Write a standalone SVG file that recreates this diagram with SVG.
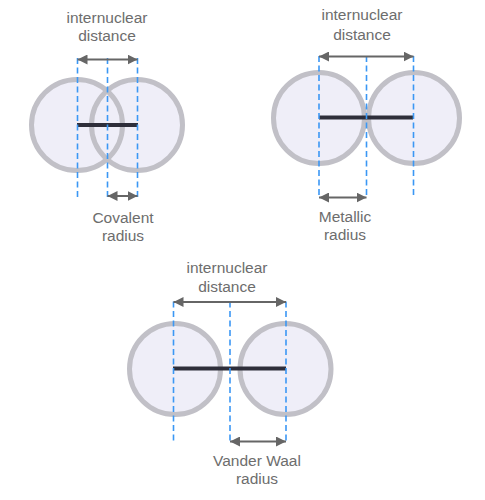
<svg xmlns="http://www.w3.org/2000/svg" width="485" height="500" viewBox="0 0 485 500">
<style>
.fill{fill:#efeef8;stroke:none}
.ring{fill:none;stroke:#c1c0c7;stroke-width:5}
.bond{stroke:#2e2e3a;stroke-width:4;stroke-linecap:butt}
.guide{stroke:#3b97f4;stroke-width:1.6;stroke-dasharray:6 3.5;fill:none}
.dim{stroke:#666666;stroke-width:2;fill:none}
text{font-family:"Liberation Sans",Arial,sans-serif;font-size:15.5px;fill:#6d6d6d;text-anchor:middle}
</style>
<defs>
<marker id="ah" viewBox="0 0 10 10" refX="10" refY="5" markerWidth="10" markerHeight="10" markerUnits="userSpaceOnUse" orient="auto-start-reverse">
<path d="M0,0 L10,5 L0,10 Z" fill="#666666"/>
</marker>
</defs>
<rect width="485" height="500" fill="#ffffff"/>
<g id="covalent">
<circle class="fill" cx="77" cy="125" r="45.5"/>
<circle class="fill" cx="137" cy="125" r="45.5"/>
<circle class="ring" cx="77" cy="125" r="45.5"/>
<circle class="ring" cx="137" cy="125" r="45.5"/>
<line class="bond" x1="77" y1="125" x2="138" y2="125"/>
<text x="107" y="22.5">internuclear</text>
<text x="107" y="41">distance</text>
<text x="123" y="222.5">Covalent</text>
<text x="123" y="240.5">radius</text>
</g>
<g id="metallic">
<circle class="fill" cx="319" cy="118" r="45.5"/>
<circle class="fill" cx="414" cy="118" r="45.5"/>
<circle class="ring" cx="319" cy="118" r="45.5"/>
<circle class="ring" cx="414" cy="118" r="45.5"/>
<line class="bond" x1="319" y1="117.5" x2="413" y2="117.5"/>
<text x="362" y="20">internuclear</text>
<text x="362" y="39.5">distance</text>
<text x="345" y="221.5">Metallic</text>
<text x="345" y="239.5">radius</text>
</g>
<g id="vanderwaals">
<circle class="fill" cx="175" cy="369" r="45.5"/>
<circle class="fill" cx="285.5" cy="369" r="45.5"/>
<circle class="ring" cx="175" cy="369" r="45.5"/>
<circle class="ring" cx="285.5" cy="369" r="45.5"/>
<line class="bond" x1="173" y1="368.5" x2="286" y2="368.5"/>
<text x="227" y="272.5">internuclear</text>
<text x="227" y="291.5">distance</text>
<text x="257" y="466">Vander Waal</text>
<text x="257" y="483.5">radius</text>
</g>
<g id="connectors">
<line class="guide" x1="77.5" y1="58" x2="77.5" y2="197"/>
<line class="guide" x1="107.5" y1="58" x2="107.5" y2="197"/>
<line class="guide" x1="137.5" y1="58" x2="137.5" y2="197"/>
<line class="dim" x1="77.5" y1="59.5" x2="137.5" y2="59.5" marker-start="url(#ah)" marker-end="url(#ah)"/>
<line class="dim" x1="107.5" y1="196" x2="137.5" y2="196" marker-start="url(#ah)" marker-end="url(#ah)"/>
<line class="guide" x1="319" y1="56" x2="319" y2="195"/>
<line class="guide" x1="366.5" y1="56" x2="366.5" y2="195"/>
<line class="guide" x1="413.5" y1="56" x2="413.5" y2="195"/>
<line class="dim" x1="319" y1="56.5" x2="413.5" y2="56.5" marker-start="url(#ah)" marker-end="url(#ah)"/>
<line class="dim" x1="319" y1="197.5" x2="366.5" y2="197.5" marker-start="url(#ah)" marker-end="url(#ah)"/>
<line class="guide" x1="173.5" y1="301.5" x2="173.5" y2="440.5"/>
<line class="guide" x1="230" y1="301.5" x2="230" y2="440.5"/>
<line class="guide" x1="286" y1="301.5" x2="286" y2="440.5"/>
<line class="dim" x1="173.5" y1="302" x2="286" y2="302" marker-start="url(#ah)" marker-end="url(#ah)"/>
<line class="dim" x1="230" y1="441.5" x2="286" y2="441.5" marker-start="url(#ah)" marker-end="url(#ah)"/>
</g>
</svg>
